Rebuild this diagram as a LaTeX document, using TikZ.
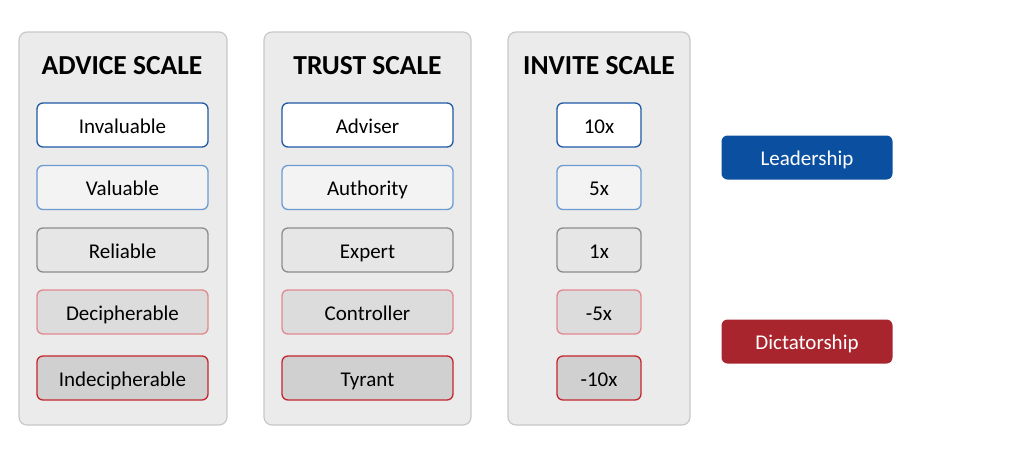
\documentclass[tikz,border=0pt]{standalone}
\usepackage{fontspec}
\setmainfont{Carlito}
\definecolor{panelfill}{HTML}{EBEBEB}
\definecolor{paneldraw}{HTML}{C8C8C8}
\definecolor{b1d}{HTML}{1F5AA6}
\definecolor{b2d}{HTML}{6C9BD2}
\definecolor{b2f}{HTML}{F3F3F3}
\definecolor{b3d}{HTML}{8C8C8C}
\definecolor{b3f}{HTML}{E6E6E6}
\definecolor{b4d}{HTML}{E2898F}
\definecolor{b4f}{HTML}{DCDCDC}
\definecolor{b5d}{HTML}{C4262E}
\definecolor{b5f}{HTML}{D0D0D0}
\definecolor{lead}{HTML}{0B50A0}
\definecolor{dict}{HTML}{A9252E}
\tikzset{
  panel/.style={draw=paneldraw, fill=panelfill, line width=1.2pt, rounded corners=8pt},
  ttl/.style={font=\fontsize{27.5}{31}\selectfont\bfseries, anchor=center},
  itembox/.style={rounded corners=6pt, line width=1.3pt, minimum height=44pt, font=\fontsize{21}{24}\selectfont, inner sep=0pt, text height=16pt, text depth=0pt},
  wide/.style={itembox, minimum width=171pt},
  narrow/.style={itembox, minimum width=84pt},
  lv1/.style={draw=b1d, fill=white},
  lv2/.style={draw=b2d, fill=b2f},
  lv3/.style={draw=b3d, fill=b3f},
  lv4/.style={draw=b4d, fill=b4f},
  lv5/.style={draw=b5d, fill=b5f},
  tag/.style={rounded corners=6pt, minimum width=171pt, minimum height=44pt, text=white, font=\fontsize{21}{24}\selectfont, inner sep=0pt, text height=16pt, text depth=0pt},
}
\begin{document}
\begin{tikzpicture}[x=1pt,y=-1pt]
\useasboundingbox (0,0) rectangle (1024,469);
\draw[panel] (19,32) rectangle (227,425);
\draw[panel] (264,32) rectangle (471,425);
\draw[panel] (508,32) rectangle (690,425);
\node[ttl] (t1) at (122,66) {ADVICE SCALE};
\node[ttl] (t2) at (367.5,66) {TRUST SCALE};
\node[ttl] (t3) at (599,66) {INVITE SCALE};
\node[wide,lv1] (a1) at (122.5,125) {Invaluable};
\node[wide,lv2] (a2) at (122.5,187.5) {Valuable};
\node[wide,lv3] (a3) at (122.5,250) {Reliable};
\node[wide,lv4] (a4) at (122.5,312) {Decipherable};
\node[wide,lv5] (a5) at (122.5,378) {Indecipherable};
\node[wide,lv1] (b1) at (367.5,125) {Adviser};
\node[wide,lv2] (b2) at (367.5,187.5) {Authority};
\node[wide,lv3] (b3) at (367.5,250) {Expert};
\node[wide,lv4] (b4) at (367.5,312) {Controller};
\node[wide,lv5] (b5) at (367.5,378) {Tyrant};
\node[narrow,lv1] (c1) at (599,125) {10x};
\node[narrow,lv2] (c2) at (599,187.5) {5x};
\node[narrow,lv3] (c3) at (599,250) {1x};
\node[narrow,lv4] (c4) at (599,312) {-5x};
\node[narrow,lv5] (c5) at (599,378) {-10x};
\node[tag,fill=lead] (lead) at (807,157.5) {Leadership};
\node[tag,fill=dict] (dict) at (807,341.5) {Dictatorship};
\end{tikzpicture}
\end{document}
